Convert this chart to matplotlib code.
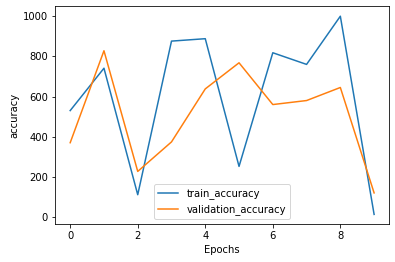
import numpy as np
import matplotlib
matplotlib.use('Agg')
import matplotlib.pyplot as plt

# Daten
epochs = np.arange(10)
train_accuracy = [530, 741, 111, 876, 888, 252, 818, 760, 1000, 13]
validation_accuracy = [370, 828, 227, 374, 638, 768, 560, 580, 645, 120]

fig = plt.figure(figsize=(395/72, 262/72), dpi=72)
ax = fig.add_axes([55/395, 1 - 224.3/262, (389.3 - 55)/395, (224.3 - 6.3)/262])

ax.plot(epochs, train_accuracy, label='train_accuracy')
ax.plot(epochs, validation_accuracy, label='validation_accuracy')

ax.set_xlabel('Epochs')
ax.set_ylabel('accuracy')
ax.legend(loc='lower center')

fig.savefig('out.png', dpi=72)
